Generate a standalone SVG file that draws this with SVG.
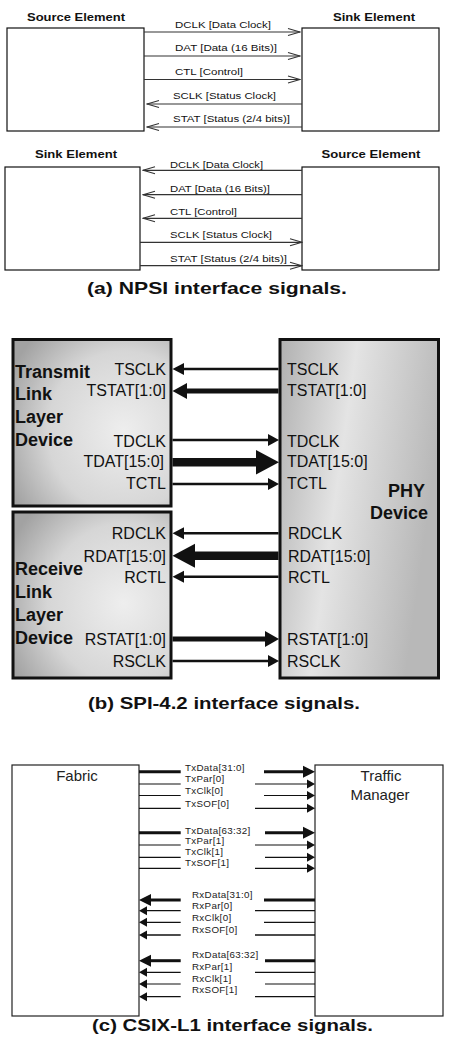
<svg xmlns="http://www.w3.org/2000/svg" width="450" height="1050" viewBox="0 0 450 1050">
<style>
text{font-family:"Liberation Sans",Arial,sans-serif;fill:#111}
.box{fill:#fff;stroke:#111;stroke-width:1.2}
.hdr{font-size:10px;font-weight:bold}
.sig{font-size:8.5px}
.cap{font-size:17px;font-weight:bold}
.wa{stroke:#333;stroke-width:1.2;fill:none}
.dev{stroke:#111;stroke-width:3}
.big{font-size:18px;font-weight:bold}
.pin{font-size:16px}
.ln{stroke:#111;fill:none}
.hd{fill:#111}
.cs{font-size:9.8px;fill:#222;letter-spacing:0.3px}
.cn{font-size:15px;fill:#222}
.cbox{fill:#fff;stroke:#222;stroke-width:1.2}
</style>
<defs>
<marker id="chev" markerUnits="userSpaceOnUse" markerWidth="14" markerHeight="10" viewBox="0 0 14 10" refX="13" refY="5" orient="auto">
<path d="M1,1.5 L13,5 L1,8.5" fill="none" stroke="#333" stroke-width="1.1"/>
</marker>
<radialGradient id="gL" cx="0.7" cy="0.55" r="0.8">
<stop offset="0" stop-color="#eeeeee"/>
<stop offset="0.6" stop-color="#d6d6d6"/>
<stop offset="1" stop-color="#a2a2a2"/>
</radialGradient>
<linearGradient id="gP" x1="0" y1="0" x2="1" y2="0.3">
<stop offset="0" stop-color="#b0b0b0"/>
<stop offset="0.45" stop-color="#e4e4e4"/>
<stop offset="1" stop-color="#b8b8b8"/>
</linearGradient>
</defs>

<!-- (a) NPSI top -->
<g id="a1-source">
<rect class="box" x="7" y="28" width="137" height="103"/>
<text class="hdr" x="76" y="20.5" text-anchor="middle" textLength="98" lengthAdjust="spacingAndGlyphs">Source Element</text>
</g>
<g id="a1-sink">
<rect class="box" x="302" y="28" width="137" height="103"/>
<text class="hdr" x="374" y="20.5" text-anchor="middle" textLength="82" lengthAdjust="spacingAndGlyphs">Sink Element</text>
</g>
<g id="a2-sink">
<rect class="box" x="5" y="167" width="135" height="103"/>
<text class="hdr" x="76" y="158.3" text-anchor="middle" textLength="82" lengthAdjust="spacingAndGlyphs">Sink Element</text>
</g>
<g id="a2-source">
<rect class="box" x="302" y="167" width="137" height="103"/>
<text class="hdr" x="371" y="158.3" text-anchor="middle" textLength="99" lengthAdjust="spacingAndGlyphs">Source Element</text>
</g>
<g id="a-connectors">
<line class="wa" x1="144" y1="32" x2="300" y2="32" marker-end="url(#chev)"/>
<line class="wa" x1="144" y1="56" x2="300" y2="56" marker-end="url(#chev)"/>
<line class="wa" x1="144" y1="79.5" x2="300" y2="79.5" marker-end="url(#chev)"/>
<line class="wa" x1="302" y1="104" x2="147" y2="104" marker-end="url(#chev)" stroke="#666" stroke-width="1.6"/>
<line class="wa" x1="302" y1="127" x2="147" y2="127" marker-end="url(#chev)" stroke="#666" stroke-width="1.6"/>
<text class="sig" x="175" y="28" textLength="96" lengthAdjust="spacingAndGlyphs">DCLK [Data Clock]</text>
<text class="sig" x="175" y="51" textLength="102" lengthAdjust="spacingAndGlyphs">DAT [Data (16 Bits)]</text>
<text class="sig" x="175" y="74.5" textLength="68" lengthAdjust="spacingAndGlyphs">CTL [Control]</text>
<text class="sig" x="173" y="98.5" textLength="103" lengthAdjust="spacingAndGlyphs">SCLK [Status Clock]</text>
<text class="sig" x="173" y="122" textLength="117" lengthAdjust="spacingAndGlyphs">STAT [Status (2/4 bits)]</text>

<line class="wa" x1="302" y1="170.3" x2="143" y2="170.3" marker-end="url(#chev)"/>
<line class="wa" x1="302" y1="194.7" x2="143" y2="194.7" marker-end="url(#chev)" stroke="#555" stroke-width="1.5"/>
<line class="wa" x1="302" y1="218.3" x2="143" y2="218.3" marker-end="url(#chev)"/>
<line class="wa" x1="140" y1="242.3" x2="302" y2="242.3" marker-end="url(#chev)"/>
<line class="wa" x1="140" y1="265.7" x2="302" y2="265.7" marker-end="url(#chev)"/>
<text class="sig" x="170" y="167.5" textLength="93" lengthAdjust="spacingAndGlyphs">DCLK [Data Clock]</text>
<text class="sig" x="170" y="191.5" textLength="100" lengthAdjust="spacingAndGlyphs">DAT [Data (16 Bits)]</text>
<text class="sig" x="170" y="214.8" textLength="67" lengthAdjust="spacingAndGlyphs">CTL [Control]</text>
<text class="sig" x="170" y="238.3" textLength="102" lengthAdjust="spacingAndGlyphs">SCLK [Status Clock]</text>
<text class="sig" x="170" y="261.7" textLength="117" lengthAdjust="spacingAndGlyphs">STAT [Status (2/4 bits)]</text>
</g>
<text class="cap" x="87" y="294" textLength="260" lengthAdjust="spacingAndGlyphs">(a) NPSI interface signals.</text>

<!-- (b) SPI-4.2 -->
<g id="b-transmit">
<rect class="dev" x="13" y="339.5" width="158" height="166.5" fill="url(#gL)"/>
<text class="big" x="15" y="377.7">Transmit</text>
<text class="big" x="15" y="400">Link</text>
<text class="big" x="15" y="423.3">Layer</text>
<text class="big" x="15" y="446">Device</text>
<g text-anchor="end">
<text class="pin" x="166" y="375">TSCLK</text>
<text class="pin" x="166" y="395.7">TSTAT[1:0]</text>
<text class="pin" x="166" y="446.7">TDCLK</text>
<text class="pin" x="164" y="467.3">TDAT[15:0]</text>
<text class="pin" x="166" y="489">TCTL</text>
</g>
</g>
<g id="b-receive">
<rect class="dev" x="13" y="512" width="158" height="166" fill="url(#gL)"/>
<text class="big" x="15" y="575">Receive</text>
<text class="big" x="15" y="598.3">Link</text>
<text class="big" x="15" y="621">Layer</text>
<text class="big" x="15" y="644">Device</text>
<g text-anchor="end">
<text class="pin" x="166" y="539.3">RDCLK</text>
<text class="pin" x="166" y="561.7">RDAT[15:0]</text>
<text class="pin" x="166" y="582.7">RCTL</text>
<text class="pin" x="166" y="645">RSTAT[1:0]</text>
<text class="pin" x="166" y="666.7">RSCLK</text>
</g>
</g>
<g id="b-phy">
<rect class="dev" x="280" y="339.5" width="158.5" height="338.5" fill="url(#gP)"/>
<text class="pin" x="287" y="375">TSCLK</text>
<text class="pin" x="287" y="395.7">TSTAT[1:0]</text>
<text class="pin" x="287" y="446.7">TDCLK</text>
<text class="pin" x="287" y="467.3">TDAT[15:0]</text>
<text class="pin" x="287" y="489">TCTL</text>
<text class="big" x="425" y="496.7" text-anchor="end">PHY</text>
<text class="big" x="428" y="519" text-anchor="end">Device</text>
<text class="pin" x="288" y="539.3">RDCLK</text>
<text class="pin" x="288" y="561.7">RDAT[15:0]</text>
<text class="pin" x="288" y="582.7">RCTL</text>
<text class="pin" x="287" y="645">RSTAT[1:0]</text>
<text class="pin" x="287" y="666.7">RSCLK</text>
</g>
<g id="b-connectors">
<line class="ln" x1="278.5" y1="369" x2="183" y2="369" stroke-width="2.6"/>
<polygon class="hd" points="172.5,369 184,363 184,375"/>
<line class="ln" x1="278.5" y1="391" x2="186" y2="391" stroke-width="5"/>
<polygon class="hd" points="172.5,391 187,383 187,399"/>
<line class="ln" x1="172.5" y1="440" x2="269" y2="440" stroke-width="2.6"/>
<polygon class="hd" points="279,440 268,434 268,446"/>
<line class="ln" x1="172.5" y1="462.3" x2="257" y2="462.3" stroke-width="8.5"/>
<polygon class="hd" points="279,462.3 256,450 256,474.6"/>
<line class="ln" x1="172.5" y1="484" x2="269" y2="484" stroke-width="2.6"/>
<polygon class="hd" points="279,484 268,478 268,490"/>

<line class="ln" x1="278.5" y1="533.3" x2="183" y2="533.3" stroke-width="2.6"/>
<polygon class="hd" points="172.5,533.3 184,527.3 184,539.3"/>
<line class="ln" x1="278.5" y1="555.7" x2="194" y2="555.7" stroke-width="8.5"/>
<polygon class="hd" points="172.5,555.7 195,543.7 195,567.7"/>
<line class="ln" x1="278.5" y1="576.7" x2="183" y2="576.7" stroke-width="2.6"/>
<polygon class="hd" points="172.5,576.7 184,570.7 184,582.7"/>
<line class="ln" x1="172.5" y1="639" x2="266" y2="639" stroke-width="5"/>
<polygon class="hd" points="279,639 265,631 265,647"/>
<line class="ln" x1="172.5" y1="661" x2="269" y2="661" stroke-width="2.6"/>
<polygon class="hd" points="279,661 268,655 268,667"/>
</g>
<text class="cap" x="88" y="709" textLength="272" lengthAdjust="spacingAndGlyphs">(b) SPI-4.2 interface signals.</text>

<!-- (c) CSIX-L1 -->
<g id="c-fabric">
<rect class="cbox" x="12" y="765" width="127" height="251"/>
<text class="cn" x="77" y="781" text-anchor="middle">Fabric</text>
</g>
<g id="c-tm">
<rect class="cbox" x="315" y="765" width="128" height="251"/>
<text class="cn" x="381" y="781" text-anchor="middle">Traffic</text>
<text class="cn" x="380" y="800" text-anchor="middle">Manager</text>
</g>
<g id="c-connectors">
<!-- Tx group 0 -->
<line class="ln" x1="139" y1="771.7" x2="180.7" y2="771.7" stroke-width="3"/>
<line class="ln" x1="264" y1="771.7" x2="304" y2="771.7" stroke-width="3"/>
<polygon class="hd" points="315,771.7 303,765.7 303,777.7"/>
<line class="ln" x1="139" y1="784" x2="180.7" y2="784" stroke-width="1.2"/>
<line class="ln" x1="255" y1="784" x2="308" y2="784" stroke-width="1.2"/>
<polygon class="hd" points="315,784 307,779.5 307,788.5"/>
<line class="ln" x1="139" y1="795.5" x2="180.7" y2="795.5" stroke-width="1.2"/>
<line class="ln" x1="264" y1="795.5" x2="308" y2="795.5" stroke-width="1.2"/>
<polygon class="hd" points="315,795.5 307,791 307,800"/>
<line class="ln" x1="139" y1="808.3" x2="180.7" y2="808.3" stroke-width="1.2"/>
<line class="ln" x1="255" y1="808.3" x2="308" y2="808.3" stroke-width="1.2"/>
<polygon class="hd" points="315,808.3 307,803.8 307,812.8"/>
<!-- Tx group 1 -->
<line class="ln" x1="139" y1="832.7" x2="180.7" y2="832.7" stroke-width="3"/>
<line class="ln" x1="265" y1="832.7" x2="304" y2="832.7" stroke-width="3"/>
<polygon class="hd" points="315,832.7 303,826.7 303,838.7"/>
<line class="ln" x1="139" y1="845" x2="180.7" y2="845" stroke-width="1.2"/>
<line class="ln" x1="255" y1="845" x2="308" y2="845" stroke-width="1.2"/>
<polygon class="hd" points="315,845 307,840.5 307,849.5"/>
<line class="ln" x1="139" y1="857.3" x2="180.7" y2="857.3" stroke-width="1.2"/>
<line class="ln" x1="265" y1="857.3" x2="308" y2="857.3" stroke-width="1.2"/>
<polygon class="hd" points="315,857.3 307,852.8 307,861.8"/>
<line class="ln" x1="139" y1="868.3" x2="180.7" y2="868.3" stroke-width="1.2"/>
<line class="ln" x1="255" y1="868.3" x2="308" y2="868.3" stroke-width="1.2"/>
<polygon class="hd" points="315,868.3 307,863.8 307,872.8"/>
<!-- Rx group 0 -->
<polygon class="hd" points="139,900 151,894 151,906"/>
<line class="ln" x1="150" y1="900" x2="180.7" y2="900" stroke-width="3"/>
<line class="ln" x1="264" y1="900" x2="315" y2="900" stroke-width="3"/>
<polygon class="hd" points="139,910.7 147,906.2 147,915.2"/>
<line class="ln" x1="146" y1="910.7" x2="180.7" y2="910.7" stroke-width="1.2"/>
<line class="ln" x1="255" y1="910.7" x2="315" y2="910.7" stroke-width="1.2"/>
<polygon class="hd" points="139,922.3 147,917.8 147,926.8"/>
<line class="ln" x1="146" y1="922.3" x2="180.7" y2="922.3" stroke-width="1.2"/>
<line class="ln" x1="264" y1="922.3" x2="315" y2="922.3" stroke-width="1.2"/>
<polygon class="hd" points="139,935 147,930.5 147,939.5"/>
<line class="ln" x1="146" y1="935" x2="180.7" y2="935" stroke-width="1.5"/>
<line class="ln" x1="255" y1="935" x2="315" y2="935" stroke-width="1.5"/>
<!-- Rx group 1 -->
<polygon class="hd" points="139,960.7 151,954.7 151,966.7"/>
<line class="ln" x1="150" y1="960.7" x2="180.7" y2="960.7" stroke-width="3"/>
<line class="ln" x1="265" y1="960.7" x2="315" y2="960.7" stroke-width="3"/>
<polygon class="hd" points="139,972.3 147,967.8 147,976.8"/>
<line class="ln" x1="146" y1="972.3" x2="180.7" y2="972.3" stroke-width="1.2"/>
<line class="ln" x1="255" y1="972.3" x2="315" y2="972.3" stroke-width="1.2"/>
<polygon class="hd" points="139,984 147,979.5 147,988.5"/>
<line class="ln" x1="146" y1="984" x2="180.7" y2="984" stroke-width="1.2"/>
<line class="ln" x1="265" y1="984" x2="315" y2="984" stroke-width="1.2"/>
<polygon class="hd" points="139,996.7 147,992.2 147,1001.2"/>
<line class="ln" x1="146" y1="996.7" x2="180.7" y2="996.7" stroke-width="1.2"/>
<line class="ln" x1="255" y1="996.7" x2="315" y2="996.7" stroke-width="1.2"/>

<text class="cs" x="185" y="770.5">TxData[31:0]</text>
<text class="cs" x="185" y="781.5">TxPar[0]</text>
<text class="cs" x="185" y="794">TxClk[0]</text>
<text class="cs" x="185" y="806.5">TxSOF[0]</text>
<text class="cs" x="185" y="833.5">TxData[63:32]</text>
<text class="cs" x="185" y="844.3">TxPar[1]</text>
<text class="cs" x="185" y="855">TxClk[1]</text>
<text class="cs" x="185" y="866">TxSOF[1]</text>
<text class="cs" x="192" y="898">RxData[31:0]</text>
<text class="cs" x="192" y="909">RxPar[0]</text>
<text class="cs" x="192" y="920.5">RxClk[0]</text>
<text class="cs" x="192" y="933">RxSOF[0]</text>
<text class="cs" x="192" y="958">RxData[63:32]</text>
<text class="cs" x="192" y="970">RxPar[1]</text>
<text class="cs" x="192" y="981.5">RxClk[1]</text>
<text class="cs" x="192" y="993">RxSOF[1]</text>
</g>
<text class="cap" x="92" y="1031" textLength="281" lengthAdjust="spacingAndGlyphs">(c) CSIX-L1 interface signals.</text>
</svg>
